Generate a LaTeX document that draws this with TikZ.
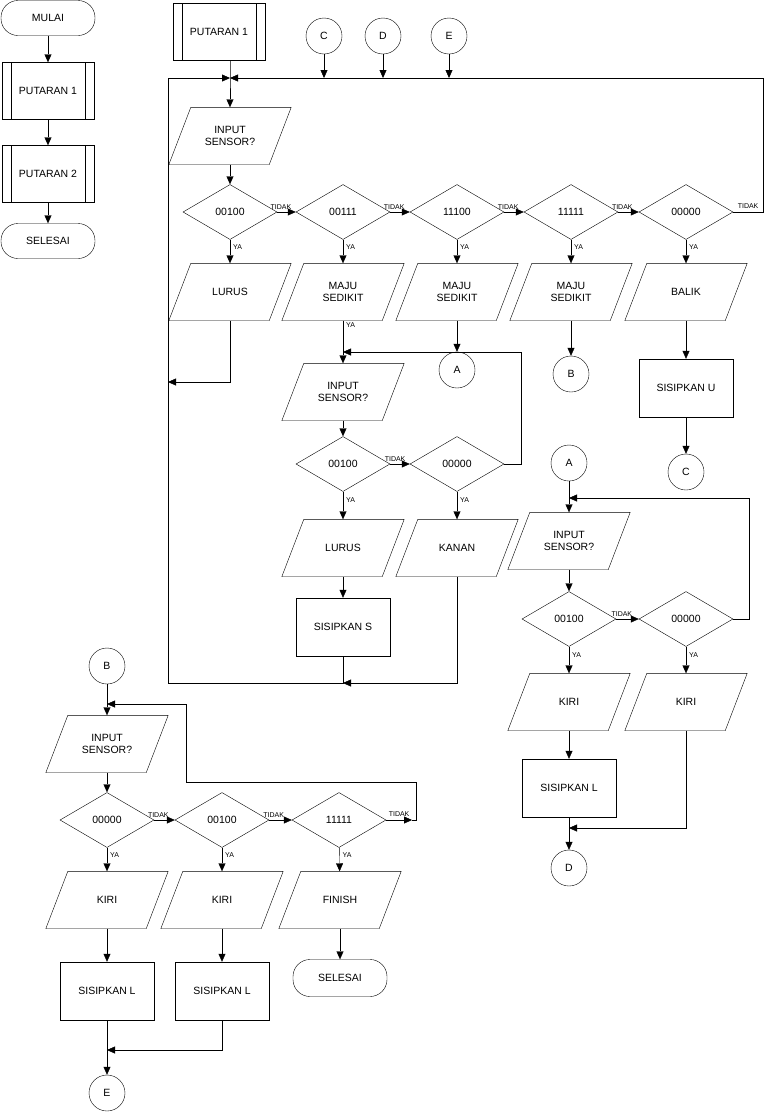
\documentclass[tikz,border=0pt]{standalone}
\usepackage{fontspec}
\setmainfont{Liberation Sans}
\usetikzlibrary{positioning,arrows.meta,shapes.geometric}

\begin{document}
\begin{tikzpicture}[
    x=1pt, y=-1pt,
    font=\fontsize{10.5}{12}\selectfont,
    every node/.style={inner sep=0pt},
    terminal/.style={rectangle, draw, rounded corners=17pt, minimum width=94pt, minimum height=35pt},
    subproc/.style={rectangle, draw, minimum width=92pt, minimum height=57pt,
        path picture={\draw ([xshift=9pt]path picture bounding box.north west) -- ([xshift=9pt]path picture bounding box.south west);
                      \draw ([xshift=-9pt]path picture bounding box.north east) -- ([xshift=-9pt]path picture bounding box.south east);}},
    io/.style={rectangle, minimum width=122pt, minimum height=57pt, align=center,
        append after command={\pgfextra{\draw ([xshift=22pt]\tikzlastnode.north west) -- (\tikzlastnode.north east)
            -- ([xshift=-22pt]\tikzlastnode.south east) -- (\tikzlastnode.south west) -- cycle;}}},
    decision/.style={diamond, draw, aspect=1.7, minimum width=94pt, minimum height=55pt},
    process/.style={rectangle, draw, minimum width=94pt, minimum height=58pt},
    connector/.style={circle, draw, minimum size=36pt},
    lbl/.style={font=\fontsize{7}{8}\selectfont},
    arrow/.style={-{Triangle[length=8pt,width=7pt]}}
]
\useasboundingbox (0,0) rectangle (765,1114);

% Main program
\node[terminal] (mulai) at (48,18) {MULAI};
\node[subproc] (put1) at (48,91) {PUTARAN 1};
\node[subproc] (put2) at (48,174) {PUTARAN 2};
\node[terminal] (selesai) at (48,241) {SELESAI};
\draw[arrow] (mulai) -- (put1);
\draw[arrow] (put1) -- (put2);
\draw[arrow] (put2) -- (selesai);

% PUTARAN 1
\node[subproc] (p1) at (219,32) {PUTARAN 1};
\node[connector] (cinC) at (324,36) {C};
\node[connector] (cinD) at (383,36) {D};
\node[connector] (cinE) at (449,36) {E};
\coordinate (jtop) at (230,78);
\coordinate (topL) at (168,78);
\coordinate (botL) at (168,683);
\coordinate (jC) at (324,78);
\coordinate (jD) at (383,78);
\coordinate (jE) at (449,78);
\node[io] (in1) at (230,136) {INPUT\\SENSOR?};
\node[decision] (d1) at (230,212) {00100};
\node[decision] (d2) at (343,212) {00111};
\node[decision] (d3) at (457,212) {11100};
\node[decision] (d4) at (571,212) {11111};
\node[decision] (d5) at (686,212) {00000};
\node[io] (lurus1) at (230,292) {LURUS};
\node[io] (maju2) at (343,292) {MAJU\\SEDIKIT};
\node[io] (maju3) at (457,292) {MAJU\\SEDIKIT};
\node[io] (maju4) at (571,292) {MAJU\\SEDIKIT};
\node[io] (balik) at (686,292) {BALIK};
\node[connector] (outA) at (457,370) {A};
\node[connector] (outB) at (571,374) {B};
\node[process] (sisU) at (686,388) {SISIPKAN U};
\node[connector] (outC) at (686,472) {C};
\coordinate (jl1) at (168,382);

\node[io] (in2) at (343,392) {INPUT\\SENSOR?};
\node[decision] (e1) at (343,464) {00100};
\node[decision] (e2) at (457,464) {00000};
\node[io] (lurus2) at (343,548) {LURUS};
\node[io] (kanan) at (457,548) {KANAN};
\node[process] (sisS) at (343,627) {SISIPKAN S};
\coordinate (jin2) at (343,352);
\coordinate (jbot) at (343,683);

\draw[arrow] ([xshift=11pt]p1.south) -- (jtop) -- (in1);
\draw[arrow] (cinC) -- (jC);
\draw[arrow] (cinD) -- (jD);
\draw[arrow] (cinE) -- (jE);
\draw[arrow] (in1) -- (d1);
\draw[arrow] (d1) -- node[lbl, above=2pt, pos=0.2] {TIDAK} (d2);
\draw[arrow] (d2) -- node[lbl, above=2pt, pos=0.2] {TIDAK} (d3);
\draw[arrow] (d3) -- node[lbl, above=2pt, pos=0.2] {TIDAK} (d4);
\draw[arrow] (d4) -- node[lbl, above=2pt, pos=0.2] {TIDAK} (d5);
\draw[arrow] (d5.east) -- node[lbl, above=3pt, pos=0.5] {TIDAK} (763,212) |- (jtop);
\draw[arrow] (botL) -- (topL) -- (jtop);
\draw[arrow] (d1) -- node[lbl, right=3pt, pos=0.3] {YA} (lurus1);
\draw[arrow] (d2) -- node[lbl, right=3pt, pos=0.3] {YA} (maju2);
\draw[arrow] (d3) -- node[lbl, right=3pt, pos=0.3] {YA} (maju3);
\draw[arrow] (d4) -- node[lbl, right=3pt, pos=0.3] {YA} (maju4);
\draw[arrow] (d5) -- node[lbl, right=3pt, pos=0.3] {YA} (balik);
\draw[arrow] (lurus1) |- (jl1);
\draw[arrow] (maju2) -- node[lbl, right=3pt, pos=0.1] {YA} (in2);
\draw[arrow] (maju3) -- (outA);
\draw[arrow] (maju4) -- (outB);
\draw[arrow] (balik) -- (sisU);
\draw[arrow] (sisU) -- (outC);
\draw[arrow] (in2) -- (e1);
\draw[arrow] (e1) -- node[lbl, above=2pt, pos=0.25] {TIDAK} (e2);
\draw[arrow] (e2.east) -- (521,464) |- (jin2);
\draw[arrow] (e1) -- node[lbl, right=3pt, pos=0.3] {YA} (lurus2);
\draw[arrow] (e2) -- node[lbl, right=3pt, pos=0.3] {YA} (kanan);
\draw[arrow] (lurus2) -- (sisS);
\draw (sisS) -- (jbot) -- (botL);
\draw[arrow] (kanan) |- (jbot);

% A
\node[connector] (inA) at (569,463) {A};
\node[io] (in3) at (569,541) {INPUT\\SENSOR?};
\node[decision] (f1) at (569,619) {00100};
\node[decision] (f2) at (686,619) {00000};
\node[io] (kiriA1) at (569,702) {KIRI};
\node[io] (kiriA2) at (686,702) {KIRI};
\node[process] (sisLA) at (569,788) {SISIPKAN L};
\node[connector] (outD) at (569,868) {D};
\coordinate (jin3) at (569,498);
\coordinate (jD2) at (569,828);
\draw[arrow] (inA) -- (in3);
\draw[arrow] (in3) -- (f1);
\draw[arrow] (f1) -- node[lbl, above=2pt, pos=0.25] {TIDAK} (f2);
\draw[arrow] (f2.east) -- (749,619) |- (jin3);
\draw[arrow] (f1) -- node[lbl, right=3pt, pos=0.3] {YA} (kiriA1);
\draw[arrow] (f2) -- node[lbl, right=3pt, pos=0.3] {YA} (kiriA2);
\draw[arrow] (kiriA1) -- (sisLA);
\draw[arrow] (sisLA) -- (outD);
\draw[arrow] (kiriA2) |- (jD2);

% B
\node[connector] (inB) at (107,666) {B};
\node[io] (in4) at (107,744) {INPUT\\SENSOR?};
\node[decision] (g1) at (107,820) {00000};
\node[decision] (g2) at (222,820) {00100};
\node[decision] (g3) at (339,820) {11111};
\node[io] (kiriB1) at (107,900) {KIRI};
\node[io] (kiriB2) at (222,900) {KIRI};
\node[io] (finish) at (340,900) {FINISH};
\node[process] (sisLB1) at (107,991) {SISIPKAN L};
\node[process] (sisLB2) at (222,991) {SISIPKAN L};
\node[terminal, minimum height=37pt] (selesai2) at (340,978) {SELESAI};
\node[connector] (outE) at (107,1093) {E};
\coordinate (jin4) at (107,704);
\coordinate (jE2) at (107,1050);
\draw[arrow] (inB) -- (in4);
\draw[arrow] (in4) -- (g1);
\draw[arrow] (g1) -- node[lbl, above=2pt, pos=0.2] {TIDAK} (g2);
\draw[arrow] (g2) -- node[lbl, above=2pt, pos=0.2] {TIDAK} (g3);
\draw[arrow] (g3.east) -- node[lbl, above=3pt, pos=0.5] {TIDAK} (412,820);
\draw[arrow] (412,820) -- (416,820) -- (416,782) -- (186,782) |- (jin4);
\draw[arrow] (g1) -- node[lbl, right=3pt, pos=0.3] {YA} (kiriB1);
\draw[arrow] (g2) -- node[lbl, right=3pt, pos=0.3] {YA} (kiriB2);
\draw[arrow] (g3) -- node[lbl, right=3pt, pos=0.3] {YA} (finish);
\draw[arrow] (kiriB1) -- (sisLB1);
\draw[arrow] (kiriB2) -- (sisLB2);
\draw[arrow] (finish) -- (selesai2);
\draw[arrow] (sisLB1) -- (outE);
\draw[arrow] (sisLB2) |- (jE2);
\end{tikzpicture}
\end{document}
